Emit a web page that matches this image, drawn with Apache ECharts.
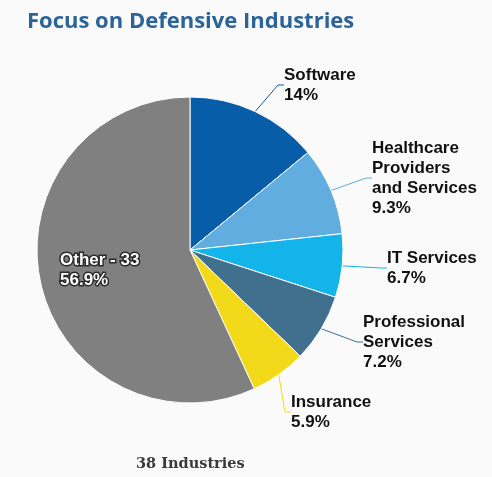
<!DOCTYPE html>
<html>
<head>
<meta charset="utf-8">
<script src="https://cdn.jsdelivr.net/npm/echarts@6/dist/echarts.min.js"></script>
<style>
  html, body { margin: 0; padding: 0; background: #fafafa; }
  #chart { width: 492px; height: 477px; }
</style>
</head>
<body>
<div id="chart"></div>
<script>
const industries = ['Software', 'Healthcare\nProviders\nand Services', 'IT Services', 'Professional\nServices', 'Insurance', 'Other - 33'];
const shares = [14, 9.3, 6.7, 7.2, 5.9, 56.9];
const colors = ['#075da7', '#62addf', '#12b4ea', '#416f8e', '#f2da1b', '#808080'];

// where each label's top-left sits
const labelPos = [[284, 65], [372, 138], [387, 248], [363, 312], [291, 392], [60, 250]];

const chart = echarts.init(document.getElementById('chart'));

const data = industries.map((name, i) => ({
    name: name,
    value: shares[i],
    itemStyle: { color: colors[i] },
    labelLine: { lineStyle: { color: colors[i] } },
    label: i === 5 ? {
        position: 'inside',
        color: '#fff',
        textBorderColor: '#2a2a2a',
        textBorderWidth: 3
    } : {}
}));

const option = {
    backgroundColor: '#fafafa',
    title: {
        text: 'Focus on Defensive Industries',
        left: 22,
        top: 6,
        textStyle: {
            color: '#2b6499',
            fontSize: 22,
            fontWeight: 'bold',
            fontFamily: 'Open Sans'
        }
    },
    graphic: [{
        type: 'text',
        left: 136,
        top: 457,
        style: {
            text: '38 Industries',
            fill: '#3a3a3a',
            font: 'bold 14.5px "DejaVu Serif", serif'
        }
    }],
    series: [{
        type: 'pie',
        center: [190, 250],
        radius: 153,
        startAngle: 90,
        clockwise: true,
        avoidLabelOverlap: false,
        itemStyle: { borderColor: '#fff', borderWidth: 1 },
        label: {
            show: true,
            formatter: '{b}\n{c}%',
            color: '#111',
            fontSize: 17,
            fontWeight: 'bold',
            fontFamily: 'Liberation Sans, Arial',
            lineHeight: 20,
            align: 'left'
        },
        labelLine: { show: true, length: 12, length2: 6, lineStyle: { width: 1 } },
        labelLayout: function (params) {
            const p = labelPos[params.dataIndex];
            return { x: p[0], y: p[1], align: 'left', verticalAlign: 'top' };
        },
        emphasis: { disabled: true },
        data: data
    }]
};
chart.setOption(option);
</script>
</body>
</html>
